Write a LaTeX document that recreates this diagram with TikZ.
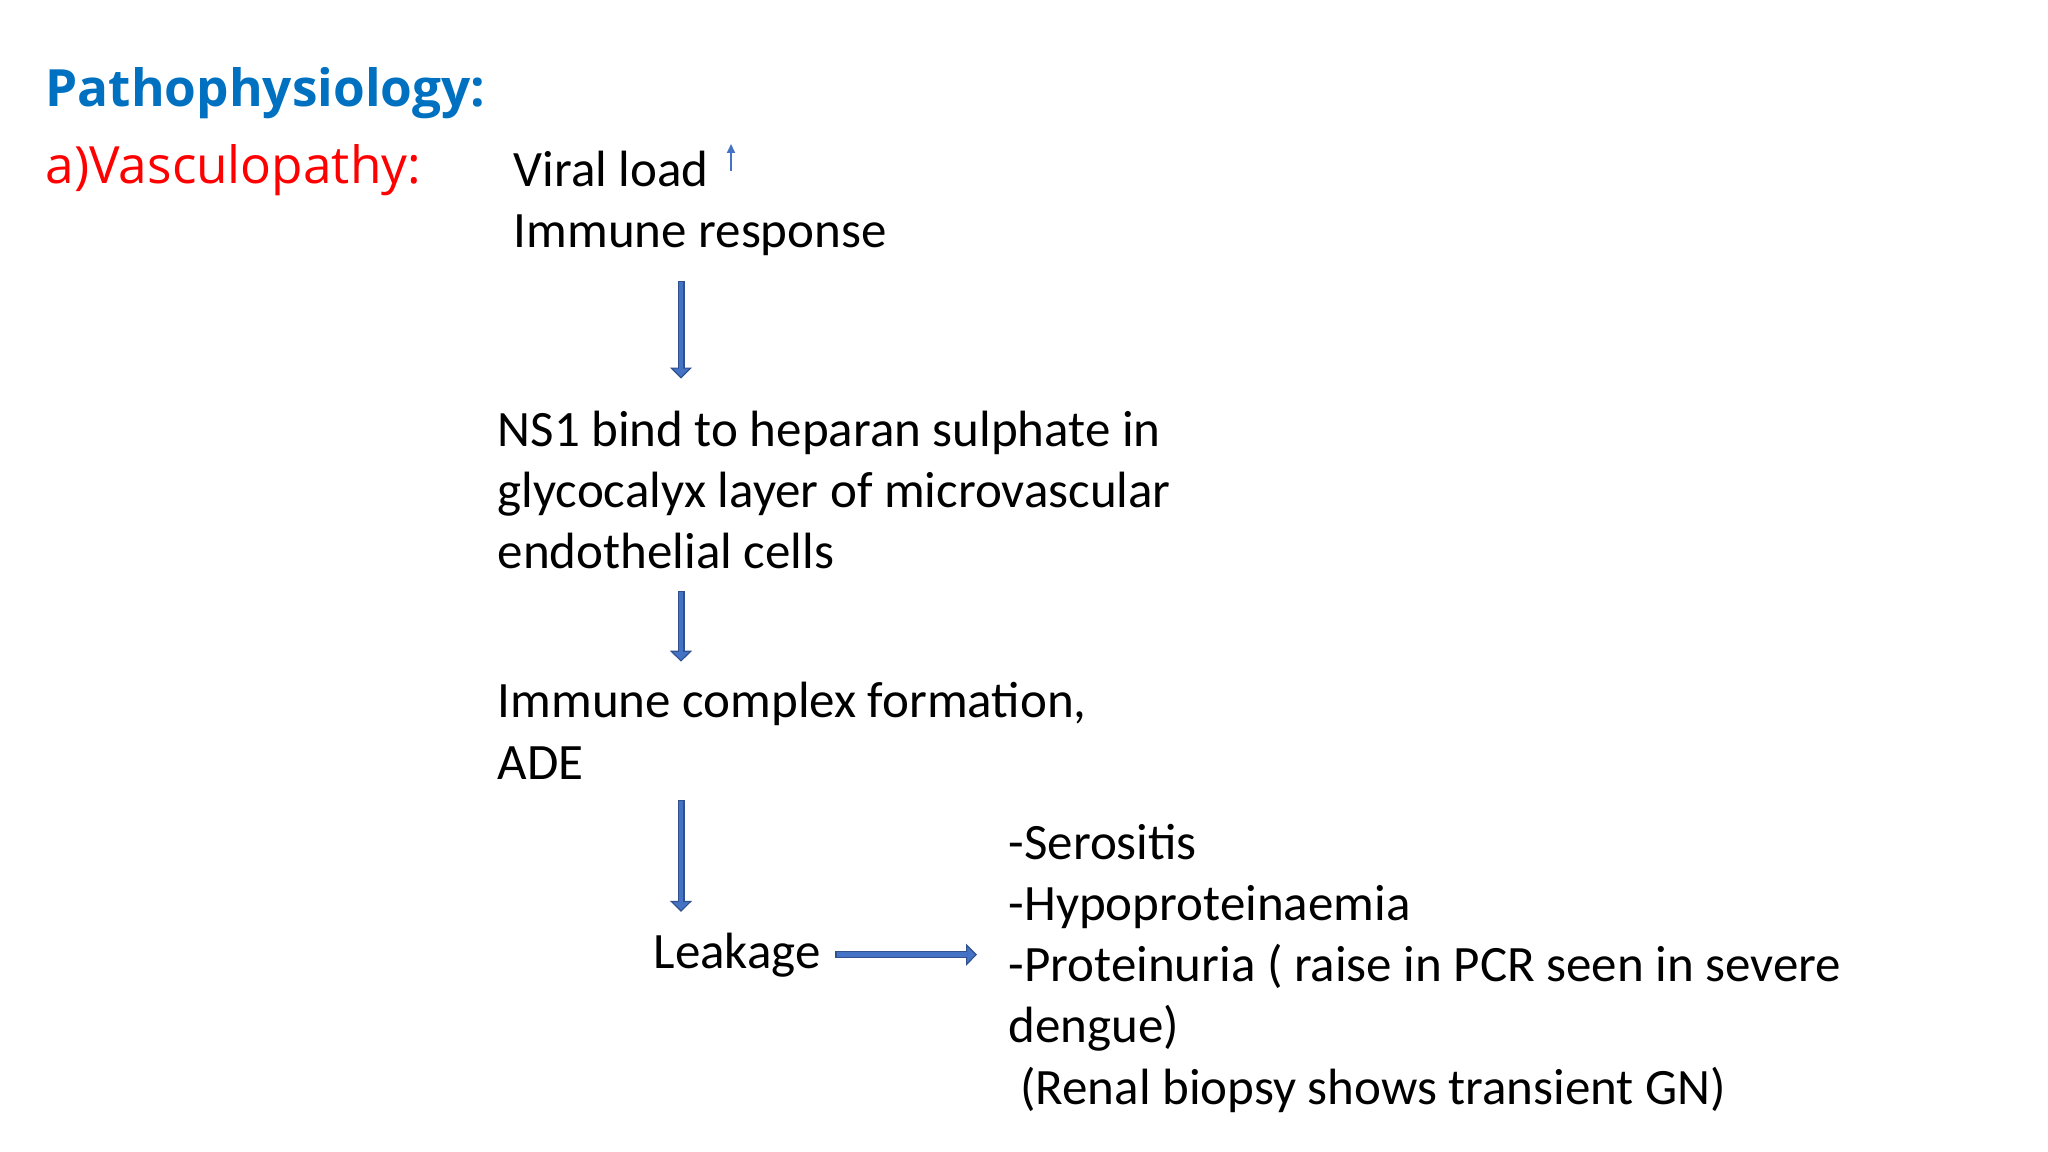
\documentclass[tikz,border=0pt]{standalone}
\usepackage{fontspec}
\setmainfont{Carlito}
\newfontfamily\headfont{Open Sans}
\usetikzlibrary{arrows.meta,positioning,calc}
\definecolor{slideBlue}{RGB}{0, 112, 192}
\definecolor{slideRed}{RGB}{255, 0, 0}
\definecolor{arrowFill}{RGB}{68, 114, 196}
\definecolor{arrowEdge}{RGB}{47, 82, 143}

\begin{document}
\begin{tikzpicture}[
  x=0.01cm, y=-0.01cm,
  stage/.style={anchor=base west, inner sep=0pt, align=left, font=\fontsize{14.5pt}{17.4pt}\selectfont},
  heading/.style={anchor=base west, inner sep=0pt},
  blockarrow/.style={draw=arrowEdge, line width=0.07cm,
    -{Triangle[length=0.11cm, width=0.22cm, fill=arrowFill, line width=0.012cm]},
    postaction={draw=arrowFill, line width=0.048cm, -, shorten <=0.012cm, shorten >=0.1cm}},
  risearrow/.style={draw=arrowFill, line width=0.02cm, -{Triangle[length=0.09cm, width=0.08cm]}}
]
\useasboundingbox (0,0) rectangle (2048,1152);
% headings
\node[heading, font=\headfont\bfseries\fontsize{14.6pt}{17pt}\selectfont, text=slideBlue] (title) at (45,107) {Pathophysiology:};
\node[heading, font=\headfont\fontsize{14.6pt}{17pt}\selectfont, text=slideRed] (subtitle) at (45,184) {a)Vasculopathy:};
% flow (anchored at the last line)
\node[stage] (viral) at (513,248) {Viral load\\Immune response};
\node[stage] (ns1) at (497,569) {NS1 bind to heparan sulphate in\\glycocalyx layer of microvascular\\endothelial cells};
\node[stage] (complex) at (497,779) {Immune complex formation,\\ADE};
\node[stage] (leakage) at (653,968) {Leakage};
\node[stage] (effects) at (1008,1104) {-Serositis\\-Hypoproteinaemia\\-Proteinuria ( raise in PCR seen in severe\\dengue)\\\ (Renal biopsy shows transient GN)};
\coordinate (axis) at (681,0);
\coordinate (rise) at (731,171);

\draw[risearrow] (rise) -- ++(0,-27);
\draw[blockarrow] ($(viral.south -| axis)+(0,24)$) -- ($(ns1.north -| axis)+(0,-32)$);
\draw[blockarrow] ($(ns1.south -| axis)+(0,21)$) -- ($(complex.north -| axis)+(0,-20)$);
\draw[blockarrow] ($(complex.south -| axis)+(0,20)$) -- ($(leakage.north -| axis)+(0,-20)$);
\draw[blockarrow] ($(leakage.east)+(14,0)$) -- ($(leakage.east -| effects.west)+(-31,0)$);
\end{tikzpicture}
\end{document}
